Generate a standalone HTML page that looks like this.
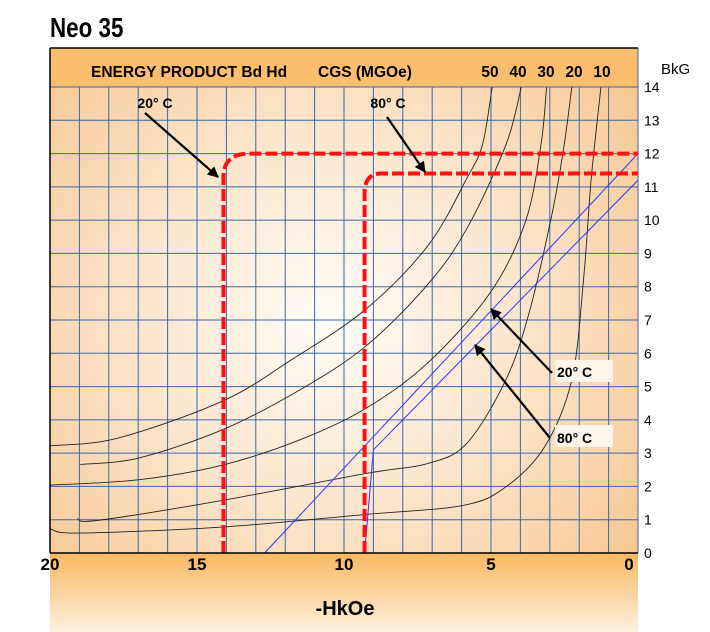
<!DOCTYPE html>
<html><head><meta charset="utf-8"><style>
html,body{margin:0;padding:0;background:#fff;}
svg{display:block;font-family:"Liberation Sans",sans-serif;}
</style></head><body>
<svg id="c" width="710" height="632" viewBox="0 0 710 632">
<defs>
<radialGradient id="bg" cx="330" cy="320" r="420" gradientUnits="userSpaceOnUse">
<stop offset="0" stop-color="#fffdf9"/><stop offset="0.55" stop-color="#fbe0c2"/><stop offset="1" stop-color="#f6c288"/>
</radialGradient>
<linearGradient id="bot" x1="0" y1="0" x2="0" y2="1">
<stop offset="0" stop-color="#f8b860"/><stop offset="1" stop-color="#fdf0e0"/>
</linearGradient>
<marker id="ah" viewBox="0 0 10 10" refX="9" refY="5" markerWidth="5" markerHeight="5" orient="auto"><path d="M0,0 L10,5 L0,10 z" fill="#000"/></marker>
</defs>
<text x="50" y="37" font-size="28" font-weight="bold" transform="translate(50,0) scale(0.8,1) translate(-50,0)">Neo 35</text>
<rect x="50" y="48" width="588" height="39" fill="#fbbe6e"/>
<line x1="50" y1="48" x2="638" y2="48" stroke="#000" stroke-width="1.5"/>
<text x="91" y="77" font-size="15.5" font-weight="bold">ENERGY PRODUCT Bd Hd</text>
<text x="318" y="77" font-size="15.5" font-weight="bold">CGS (MGOe)</text>
<g font-size="15.5" font-weight="bold" text-anchor="middle">
<text x="490" y="77">50</text><text x="518" y="77">40</text><text x="546" y="77">30</text><text x="574" y="77">20</text><text x="602" y="77">10</text>
</g>
<text x="661" y="74" font-size="15">BkG</text>
<rect x="50" y="87" width="588" height="466" fill="url(#bg)"/>
<rect x="50" y="553" width="588" height="79" fill="url(#bot)"/>
<g id="grid"></g>
<g id="curves"></g>
<g id="marks"></g>
<line x1="50" y1="48" x2="50" y2="553" stroke="#000" stroke-width="1.5"/>
<line x1="50" y1="553" x2="638" y2="553" stroke="#000" stroke-width="1.5"/>
<g id="labels"></g>
<text x="345" y="615" font-size="20" font-weight="bold" text-anchor="middle">-HkOe</text>
<g>
<text x="155" y="108" font-size="14" font-weight="bold" text-anchor="middle">20° C</text>
<line x1="145" y1="113" x2="218" y2="177" stroke="#000" stroke-width="2.2" marker-end="url(#ah)"/>
<text x="388" y="108" font-size="14" font-weight="bold" text-anchor="middle">80° C</text>
<line x1="387" y1="117" x2="425" y2="172" stroke="#000" stroke-width="2.2" marker-end="url(#ah)"/>
<rect x="555" y="360" width="58" height="22" fill="#fdf4ea"/>
<text x="557" y="377" font-size="14" font-weight="bold">20° C</text>
<line x1="552" y1="373" x2="491" y2="309" stroke="#000" stroke-width="2.2" marker-end="url(#ah)"/>
<rect x="555" y="425" width="58" height="22" fill="#fdf4ea"/>
<text x="557" y="443" font-size="14" font-weight="bold">80° C</text>
<line x1="550" y1="438" x2="475" y2="345" stroke="#000" stroke-width="2.2" marker-end="url(#ah)"/>
</g>
</svg>
<script>
const xTicks=[20,15,10,5,0];
const yTicks=[0,1,2,3,4,5,6,7,8,9,10,11,12,13,14];
const energyLabels=[50,40,30,20,10];
const curve50H=[20,17.7,14.14,11.76,9.25,7.14,5.82,5.29,4.96];
const curve50B=[3.22,3.45,4.56,5.82,7.33,9.24,11.26,12.27,14];
const curve40H=[18.97,17,14.14,11.5,9.25,7.14,5.82,4.49,3.97];
const curve40B=[2.66,2.85,3.70,4.9,6.22,8.08,9.75,12.27,14];
const curve30H=[20,17,14.14,11.5,9.25,7.14,5.02,3.83,3.30,3.11];
const curve30B=[2.04,2.2,2.64,3.4,4.35,5.72,7.83,9.95,12.27,14];
const curve20H=[19.07,18.37,14.14,9.25,7.14,5.82,4.49,3.70,2.91,2.51,2.25];
const curve20B=[1.03,0.98,1.58,2.39,2.69,3.30,5.21,7.23,10.25,12.27,14];
const curve10H=[20,19.03,14.14,9.25,5.95,4.49,3.17,2.25,1.85,1.59,1.26];
const curve10B=[0.73,0.60,0.78,1.16,1.43,1.99,3.20,5.21,8.24,11.26,14];
const load20H=[12.7,0];
const load20B=[0,12];
const load80H=[9.3,9.0,0];
const load80B=[0,3.1,11.2];
const demag20H=[14.1,14.1,13.2,0];
const demag20B=[0,11.3,12,12];
const demag80H=[9.3,9.3,8.74,0];
const demag80B=[0,10.8,11.4,11.4];

const NS='http://www.w3.org/2000/svg';
const X=h=>638-h*29.4;
const Y=b=>553-b*(466/14);
function mk(t,a,p){const e=document.createElementNS(NS,t);for(const k in a)e.setAttribute(k,a[k]);p.appendChild(e);return e;}
const grid=document.getElementById('grid');
for(let h=1;h<20;h++){const l=mk('line',{x1:X(h),x2:X(h),y1:87,y2:553,stroke:'#3a68a8','stroke-width':1},grid);

}
for(let b=1;b<=14;b++){const l=mk('line',{x1:50,x2:638,y1:Y(b),y2:Y(b),stroke:'#3a68a8','stroke-width':1},grid);

}
mk('line',{x1:638,x2:638,y1:48,y2:553,stroke:'#3a68a8','stroke-width':1},grid);
function smooth(H,B){let pts=H.map((h,i)=>[X(h),Y(B[i])]);let d='M'+pts[0][0]+','+pts[0][1];
for(let i=0;i<pts.length-1;i++){const p0=pts[Math.max(0,i-1)],p1=pts[i],p2=pts[i+1],p3=pts[Math.min(pts.length-1,i+2)];
d+=' C'+(p1[0]+(p2[0]-p0[0])/6)+','+(p1[1]+(p2[1]-p0[1])/6)+' '+(p2[0]-(p3[0]-p1[0])/6)+','+(p2[1]-(p3[1]-p1[1])/6)+' '+p2[0]+','+p2[1];}return d;}
const cv=document.getElementById('curves');
[[curve50H,curve50B,'energy-curve-50'],[curve40H,curve40B,'energy-curve-40'],[curve30H,curve30B,'energy-curve-30'],[curve20H,curve20B,'energy-curve-20'],[curve10H,curve10B,'energy-curve-10']].forEach(c=>{
const p=mk('path',{d:smooth(c[0],c[1]),fill:'none',stroke:'#222','stroke-width':0.9},cv);

});
const mg=document.getElementById('marks');
function poly(H,B){return H.map((h,i)=>X(h)+','+Y(B[i])).join(' ');}
const l1=mk('polyline',{points:poly(load20H,load20B),fill:'none',stroke:'#3333ff','stroke-width':1},mg);


const l2=mk('polyline',{points:poly(load80H,load80B),fill:'none',stroke:'#3333ff','stroke-width':1},mg);


function demag(H,B){return 'M'+X(H[0])+','+Y(B[0])+' L'+X(H[1])+','+Y(B[1])+' Q'+X(H[1])+','+Y(B[2])+' '+X(H[2])+','+Y(B[2])+' L'+X(H[3])+','+Y(B[3]);}
const d1=mk('path',{d:demag(demag20H,demag20B),fill:'none',stroke:'#ff1010','stroke-width':4,'stroke-dasharray':'12,4'},mg);


const d2=mk('path',{d:demag(demag80H,demag80B),fill:'none',stroke:'#ff1010','stroke-width':4,'stroke-dasharray':'12,4'},mg);


const lb=document.getElementById('labels');
yTicks.forEach(b=>{const t=mk('text',{x:644,y:Y(b)+5,'font-size':14},lb);t.textContent=b;

});
xTicks.forEach(h=>{const t=mk('text',{x:h===0?X(h)-9:X(h),y:570,'font-size':17,'font-weight':'bold','text-anchor':'middle'},lb);t.textContent=h;

});
</script>
</body></html>
